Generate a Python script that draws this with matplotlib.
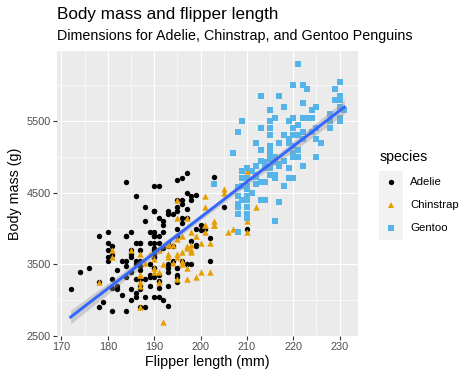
import numpy as np
import matplotlib
matplotlib.use("Agg")
import matplotlib.pyplot as plt
from matplotlib.patches import Rectangle
from matplotlib.lines import Line2D

plt.rcParams['font.family'] = ['Liberation Sans', 'DejaVu Sans']

# flipper length (mm), body mass (g) per species
adelie_flipper = [181, 186, 195, 193, 190, 181, 195, 193, 190, 186, 180, 182, 191, 198, 185, 195, 197, 184, 194, 174,
                  180, 189, 185, 180, 187, 183, 187, 172, 180, 178, 178, 188, 184, 195, 196, 190, 180, 181, 184, 182,
                  195, 186, 196, 185, 190, 182, 179, 190, 191, 186, 188, 190, 200, 187, 191, 186, 193, 181, 194, 185,
                  195, 185, 192, 184, 192, 195, 188, 190, 198, 190, 190, 196, 197, 190, 195, 191, 184, 187, 195, 189,
                  196, 187, 193, 191, 194, 190, 189, 189, 190, 202, 205, 185, 186, 187, 208, 190, 196, 178, 192, 192,
                  203, 183, 190, 193, 184, 199, 190, 181, 197, 198, 191, 193, 197, 191, 196, 188, 199, 189, 189, 187,
                  198, 176, 202, 186, 199, 191, 195, 191, 210, 190, 197, 193, 199, 187, 190, 191, 200, 185, 193, 193,
                  187, 188, 190, 192, 185, 190, 184, 195, 193, 187, 201]
adelie_mass = [3750, 3800, 3250, 3450, 3650, 3625, 4675, 3475, 4250, 3300, 3700, 3200, 3800, 4400, 3700, 3450, 4500, 3325, 4200, 3400,
               3600, 3800, 3950, 3800, 3800, 3550, 3200, 3150, 3950, 3250, 3900, 3300, 3900, 3325, 4150, 3950, 3550, 3300, 4650, 3150,
               3900, 3100, 4400, 3000, 4600, 3425, 2975, 3450, 4150, 3500, 4300, 3450, 4050, 2900, 3700, 3550, 3800, 2850, 3750, 3150,
               4400, 3600, 4050, 2850, 3950, 3350, 4100, 3050, 4450, 3600, 3900, 3550, 4150, 3700, 4250, 3700, 3900, 3550, 4000, 3200,
               4700, 3800, 4200, 3350, 3550, 3800, 3500, 3950, 3600, 3550, 4300, 3400, 4450, 3300, 4300, 3700, 4350, 2900, 4100, 3725,
               4725, 3075, 4250, 2925, 3550, 3750, 3900, 3175, 4775, 3825, 4600, 3200, 4275, 3900, 4075, 2900, 3775, 3350, 3325, 3150,
               3500, 3450, 3875, 3050, 4000, 3275, 4300, 3050, 4000, 3325, 3500, 3500, 4475, 3425, 3900, 3175, 3975, 3400, 4250, 3400,
               3475, 3050, 3725, 3000, 3650, 4250, 3475, 3450, 3750, 3700, 4000]

chinstrap_flipper = [192, 196, 193, 188, 197, 198, 178, 197, 195, 198, 193, 194, 185, 201, 190, 201, 197, 181, 190, 195,
                     181, 191, 187, 193, 195, 197, 200, 200, 191, 205, 187, 201, 187, 203, 195, 199, 195, 210, 192, 205,
                     210, 187, 196, 196, 196, 201, 190, 212, 187, 198, 199, 201, 193, 203, 187, 197, 191, 203, 202, 194,
                     206, 189, 195, 207, 202, 193, 210, 198]
chinstrap_mass = [3500, 3900, 3650, 3525, 3725, 3950, 3250, 3750, 4150, 3700, 3800, 3775, 3700, 4050, 3575, 4050, 3300, 3700, 3450, 4400,
                  3600, 3400, 2900, 3800, 3300, 4150, 3400, 3800, 3700, 4550, 3200, 4300, 3350, 4100, 3600, 3900, 3850, 4800, 2700, 4500,
                  3950, 3650, 3550, 3500, 3675, 4450, 3400, 4300, 3250, 3675, 3325, 3950, 3600, 4050, 3350, 3450, 3250, 4050, 3800, 3525,
                  3950, 3650, 3650, 4000, 3400, 3775, 4100, 3775]

gentoo_flipper = [211, 230, 210, 218, 215, 210, 211, 219, 209, 215, 214, 216, 214, 213, 210, 217, 210, 221, 209, 222,
                  218, 215, 213, 215, 215, 215, 216, 215, 210, 220, 222, 209, 207, 230, 220, 220, 213, 219, 208, 208,
                  208, 225, 210, 216, 222, 217, 210, 225, 213, 215, 210, 220, 210, 225, 217, 220, 208, 220, 208, 224,
                  208, 221, 214, 231, 219, 230, 214, 229, 220, 223, 216, 221, 221, 217, 216, 230, 209, 220, 215, 223,
                  212, 221, 212, 224, 212, 228, 218, 218, 212, 230, 218, 228, 212, 224, 214, 226, 216, 222, 203, 225,
                  219, 228, 215, 228, 216, 215, 210, 219, 208, 209, 216, 229, 213, 230, 217, 230, 217, 222, 214, 215,
                  222, 212, 213]
gentoo_mass = [4500, 5700, 4450, 5700, 5400, 4550, 4800, 5200, 4400, 5150, 4650, 5550, 4650, 5850, 4200, 5850, 4150, 6300, 4800, 5350,
               5700, 5000, 4400, 5050, 5000, 5100, 4100, 5650, 4600, 5550, 5250, 4700, 5050, 6050, 5150, 5400, 4950, 5250, 4350, 5350,
               3950, 5700, 4300, 4750, 5550, 4900, 4200, 5400, 5100, 5300, 4850, 5300, 4400, 5000, 4900, 5050, 4300, 5000, 4450, 5550,
               4200, 5300, 4400, 5650, 4700, 5700, 4650, 5800, 4700, 5550, 4750, 5000, 5100, 5200, 4700, 5800, 4600, 6000, 4750, 5950,
               4625, 5450, 4725, 5350, 4750, 5600, 4600, 5300, 4875, 5550, 4950, 5400, 4750, 5650, 4850, 5200, 4925, 4875, 4625, 5250,
               4850, 5600, 4975, 5500, 4725, 5500, 4700, 5500, 4575, 5500, 5000, 5950, 4650, 5500, 4375, 5850, 4875, 6000, 4925, 4850,
               5750, 5200, 5400]

species = ['Adelie', 'Chinstrap', 'Gentoo']
colors = ['#000000', '#E69F00', '#56B4E9']
markers = ['o', '^', 's']
sizes = [15, 21, 13]

fig = plt.figure(figsize=(4.74, 3.79), dpi=100)
ax = fig.add_axes([57/474, 1-336/379, 301/474, 285/379])
ax.set_facecolor('#EBEBEB')
for s in ax.spines.values():
    s.set_visible(False)

data = [(adelie_flipper, adelie_mass), (chinstrap_flipper, chinstrap_mass), (gentoo_flipper, gentoo_mass)]
for (fx, my), c, m, sz in zip(data, colors, markers, sizes):
    ax.scatter(fx, my, s=sz, c=c, marker=m, linewidths=0, zorder=3)

# lm fit over all penguins with 95% band
x_all = np.array(adelie_flipper + chinstrap_flipper + gentoo_flipper, dtype=float)
y_all = np.array(adelie_mass + chinstrap_mass + gentoo_mass, dtype=float)
b, a = np.polyfit(x_all, y_all, 1)
n = len(x_all)
resid = y_all - (a + b * x_all)
sig = np.sqrt(np.sum(resid**2) / (n - 2))
sxx = np.sum((x_all - x_all.mean())**2)
xs = np.linspace(x_all.min(), x_all.max(), 80)
ys = a + b * xs
se = sig * np.sqrt(1/n + (xs - x_all.mean())**2 / sxx)
ax.fill_between(xs, ys - 1.967*se, ys + 1.967*se, color='#999999', alpha=0.4, linewidth=0, zorder=4)
ax.plot(xs, ys, color='#3366FF', linewidth=2.1, zorder=5)

ax.set_xlim(169.05, 233.95)
ax.set_ylim(2520, 6480)
ax.set_xticks([170, 180, 190, 200, 210, 220, 230])
ax.set_yticks([2500, 3500, 4500, 5500])
ax.set_xticks([175, 185, 195, 205, 215, 225], minor=True)
ax.set_yticks([3000, 4000, 5000, 6000], minor=True)
ax.grid(which='major', color='white', linewidth=0.8, zorder=0)
ax.grid(which='minor', color='white', linewidth=0.4, zorder=0)
ax.set_axisbelow(True)
ax.tick_params(which='major', length=3, width=0.8, color='#333333', labelsize=7.8, labelcolor='#4D4D4D', pad=1.5)
ax.tick_params(which='minor', length=0)

ax.set_xlabel('Flipper length (mm)', fontsize=10.3, labelpad=2)
ax.set_ylabel('Body mass (g)', fontsize=10.3, labelpad=3)

fig.text(57/474, 1-7/379, 'Body mass and flipper length', fontsize=12.3, va='top', ha='left')
fig.text(57/474, 1-29/379, 'Dimensions for Adelie, Chinstrap, and Gentoo Penguins', fontsize=10.3, va='top', ha='left')

# legend drawn by hand, ggplot style
fig.text(380/474, 1-157/379, 'species', fontsize=10.2, va='center', ha='left')
key_y = [182, 205, 228]
for sp, c, m, sz, ky in zip(species, colors, markers, sizes, key_y):
    fig.patches.append(Rectangle((379/474, 1-(ky+11.5)/379), 24/474, 23/379,
                                 transform=fig.transFigure, facecolor='#F2F2F2', edgecolor='none'))
    fig.add_artist(Line2D([391/474], [1-ky/379], transform=fig.transFigure, marker=m,
                          markersize=np.sqrt(sz), color=c, markeredgewidth=0, linestyle='none'))
    fig.text(410/474, 1-ky/379, sp, fontsize=8.2, va='center', ha='left')

fig.savefig('out.png', dpi=100)
